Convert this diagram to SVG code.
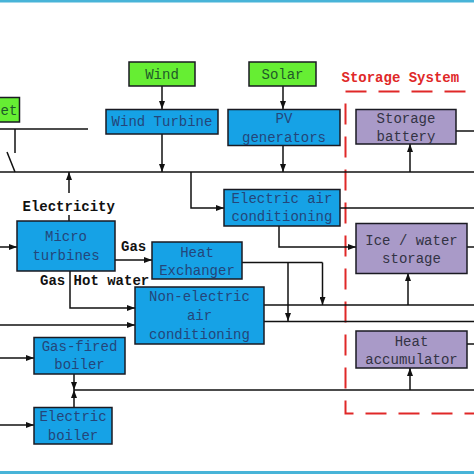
<svg xmlns="http://www.w3.org/2000/svg" width="474" height="474" viewBox="0 0 474 474">
<style>
.blue{fill:#16a2e6;stroke:#1a1a22;stroke-width:1.5}
.green{fill:#66ee33;stroke:#1a1a22;stroke-width:1.5}
.purple{fill:#a99ac8;stroke:#1a1a22;stroke-width:1.5}
text{font-family:"Liberation Mono","DejaVu Sans Mono",monospace;font-size:14px}
.tb{fill:#24467a;text-anchor:middle}
.tg{fill:#1f5a2a;text-anchor:middle}
.tp{fill:#333344;text-anchor:middle}
.lbl{fill:#111;font-weight:bold}
.red{fill:#e02828;font-weight:bold}
.c line,.c polyline{stroke:#111;stroke-width:1.5;fill:none}
.a{marker-end:url(#ah)}
</style>
<defs>
<marker id="ah" markerWidth="8" markerHeight="6" refX="8" refY="3" orient="auto" markerUnits="userSpaceOnUse">
<path d="M0,0 L8,3 L0,6 z" fill="#111"/>
</marker>
</defs>
<rect x="0" y="0" width="474" height="474" fill="#ffffff"/>
<rect x="0" y="0" width="474" height="2.5" fill="#48b4d8"/>
<rect x="0" y="471" width="474" height="3" fill="#48b4d8"/>

<rect x="345.5" y="91.5" width="140" height="322" fill="none" stroke="#e02828" stroke-width="2" stroke-dasharray="21 12"/>
<text class="red" x="341.5" y="81.5">Storage System</text>

<g class="c" id="connectors">
<line class="a" x1="162" y1="86" x2="162" y2="109"/>
<line class="a" x1="162" y1="134" x2="162" y2="172"/>
<line class="a" x1="283" y1="86" x2="283" y2="109"/>
<line class="a" x1="283" y1="146" x2="283" y2="172"/>
<line x1="0" y1="129" x2="88" y2="129"/>
<line x1="15" y1="129" x2="15" y2="153"/>
<line x1="7" y1="152" x2="15" y2="172"/>
<line x1="0" y1="172" x2="474" y2="172"/>
<line class="a" x1="410" y1="172" x2="410" y2="144"/>
<line x1="456" y1="131" x2="474" y2="131"/>
<polyline class="a" points="191,172 191,208 224,208"/>
<line x1="340" y1="208" x2="474" y2="208"/>
<polyline class="a" points="279,226 279,247 356,247"/>
<line x1="467" y1="247" x2="474" y2="247"/>
<line x1="69" y1="221" x2="69" y2="215"/>
<line class="a" x1="69" y1="193" x2="69" y2="172"/>
<line class="a" x1="0" y1="247" x2="17" y2="247"/>
<line class="a" x1="115" y1="260" x2="152" y2="260"/>
<line x1="242" y1="262.5" x2="322.5" y2="262.5"/>
<line class="a" x1="322.5" y1="262.5" x2="322.5" y2="305"/>
<line class="a" x1="288" y1="262.5" x2="288" y2="321"/>
<polyline class="a" points="70,271 70,308 135,308"/>
<line class="a" x1="0" y1="325" x2="135" y2="325"/>
<line x1="264" y1="305" x2="474" y2="305"/>
<line x1="264" y1="321.5" x2="474" y2="321.5"/>
<line class="a" x1="408" y1="305" x2="408" y2="273"/>
<line class="a" x1="0" y1="358" x2="34" y2="358"/>
<line class="a" x1="0" y1="425" x2="34" y2="425"/>
<line class="a" x1="74" y1="374" x2="74" y2="390"/>
<line class="a" x1="74" y1="407" x2="74" y2="390"/>
<line x1="74" y1="390" x2="474" y2="390"/>
<line class="a" x1="410" y1="390" x2="410" y2="368"/>
<line x1="467" y1="344" x2="474" y2="344"/>
</g>

<text class="lbl" x="22.5" y="210.5">Electricity</text>
<text class="lbl" x="121" y="251">Gas</text>
<text class="lbl" x="40" y="285">Gas Hot water</text>

<g id="grid"><rect class="green" x="-5" y="97.5" width="24.5" height="24.5"/><text class="tg" x="0.5" y="114.5" style="text-anchor:start">et</text></g>
<g id="wind"><rect class="green" x="129" y="62" width="66" height="24"/><text class="tg" x="162" y="78.5">Wind</text></g>
<g id="solar"><rect class="green" x="249" y="62" width="67" height="24"/><text class="tg" x="282.5" y="78.5">Solar</text></g>
<g id="wind-turbine"><rect class="blue" x="106" y="109.5" width="112" height="24.5"/><text class="tb" x="162" y="126">Wind Turbine</text></g>
<g id="pv"><rect class="blue" x="228" y="109.5" width="112" height="36"/><text class="tb" x="284" y="122.5">PV</text><text class="tb" x="284" y="141.5">generators</text></g>
<g id="storage-battery"><rect class="purple" x="356" y="109.5" width="100" height="34.5"/><text class="tp" x="406" y="123">Storage</text><text class="tp" x="406" y="141">battery</text></g>
<g id="electric-ac"><rect class="blue" x="224" y="189.5" width="116" height="36.5"/><text class="tb" x="282" y="203">Electric air</text><text class="tb" x="282" y="221">conditioning</text></g>
<g id="micro-turbines"><rect class="blue" x="17" y="221" width="98" height="50"/><text class="tb" x="66" y="241">Micro</text><text class="tb" x="66" y="259.5">turbines</text></g>
<g id="heat-exchanger"><rect class="blue" x="152" y="242" width="90" height="37"/><text class="tb" x="197" y="257">Heat</text><text class="tb" x="197" y="275">Exchanger</text></g>
<g id="ice-water"><rect class="purple" x="356" y="223.5" width="111" height="50"/><text class="tp" x="411.5" y="244.5">Ice / water</text><text class="tp" x="411.5" y="263">storage</text></g>
<g id="non-electric-ac"><rect class="blue" x="135" y="287" width="129" height="57"/><text class="tb" x="199.5" y="301">Non-electric</text><text class="tb" x="199.5" y="320">air</text><text class="tb" x="199.5" y="338.5">conditioning</text></g>
<g id="heat-accumulator"><rect class="purple" x="356" y="331" width="111" height="37"/><text class="tp" x="411.5" y="345.5">Heat</text><text class="tp" x="411.5" y="363.5">accumulator</text></g>
<g id="gas-fired-boiler"><rect class="blue" x="34" y="337.5" width="91" height="36.5"/><text class="tb" x="79.5" y="350.5">Gas-fired</text><text class="tb" x="79.5" y="369">boiler</text></g>
<g id="electric-boiler"><rect class="blue" x="34" y="407.5" width="78" height="36.5"/><text class="tb" x="73" y="421">Electric</text><text class="tb" x="73" y="440">boiler</text></g>
</svg>
